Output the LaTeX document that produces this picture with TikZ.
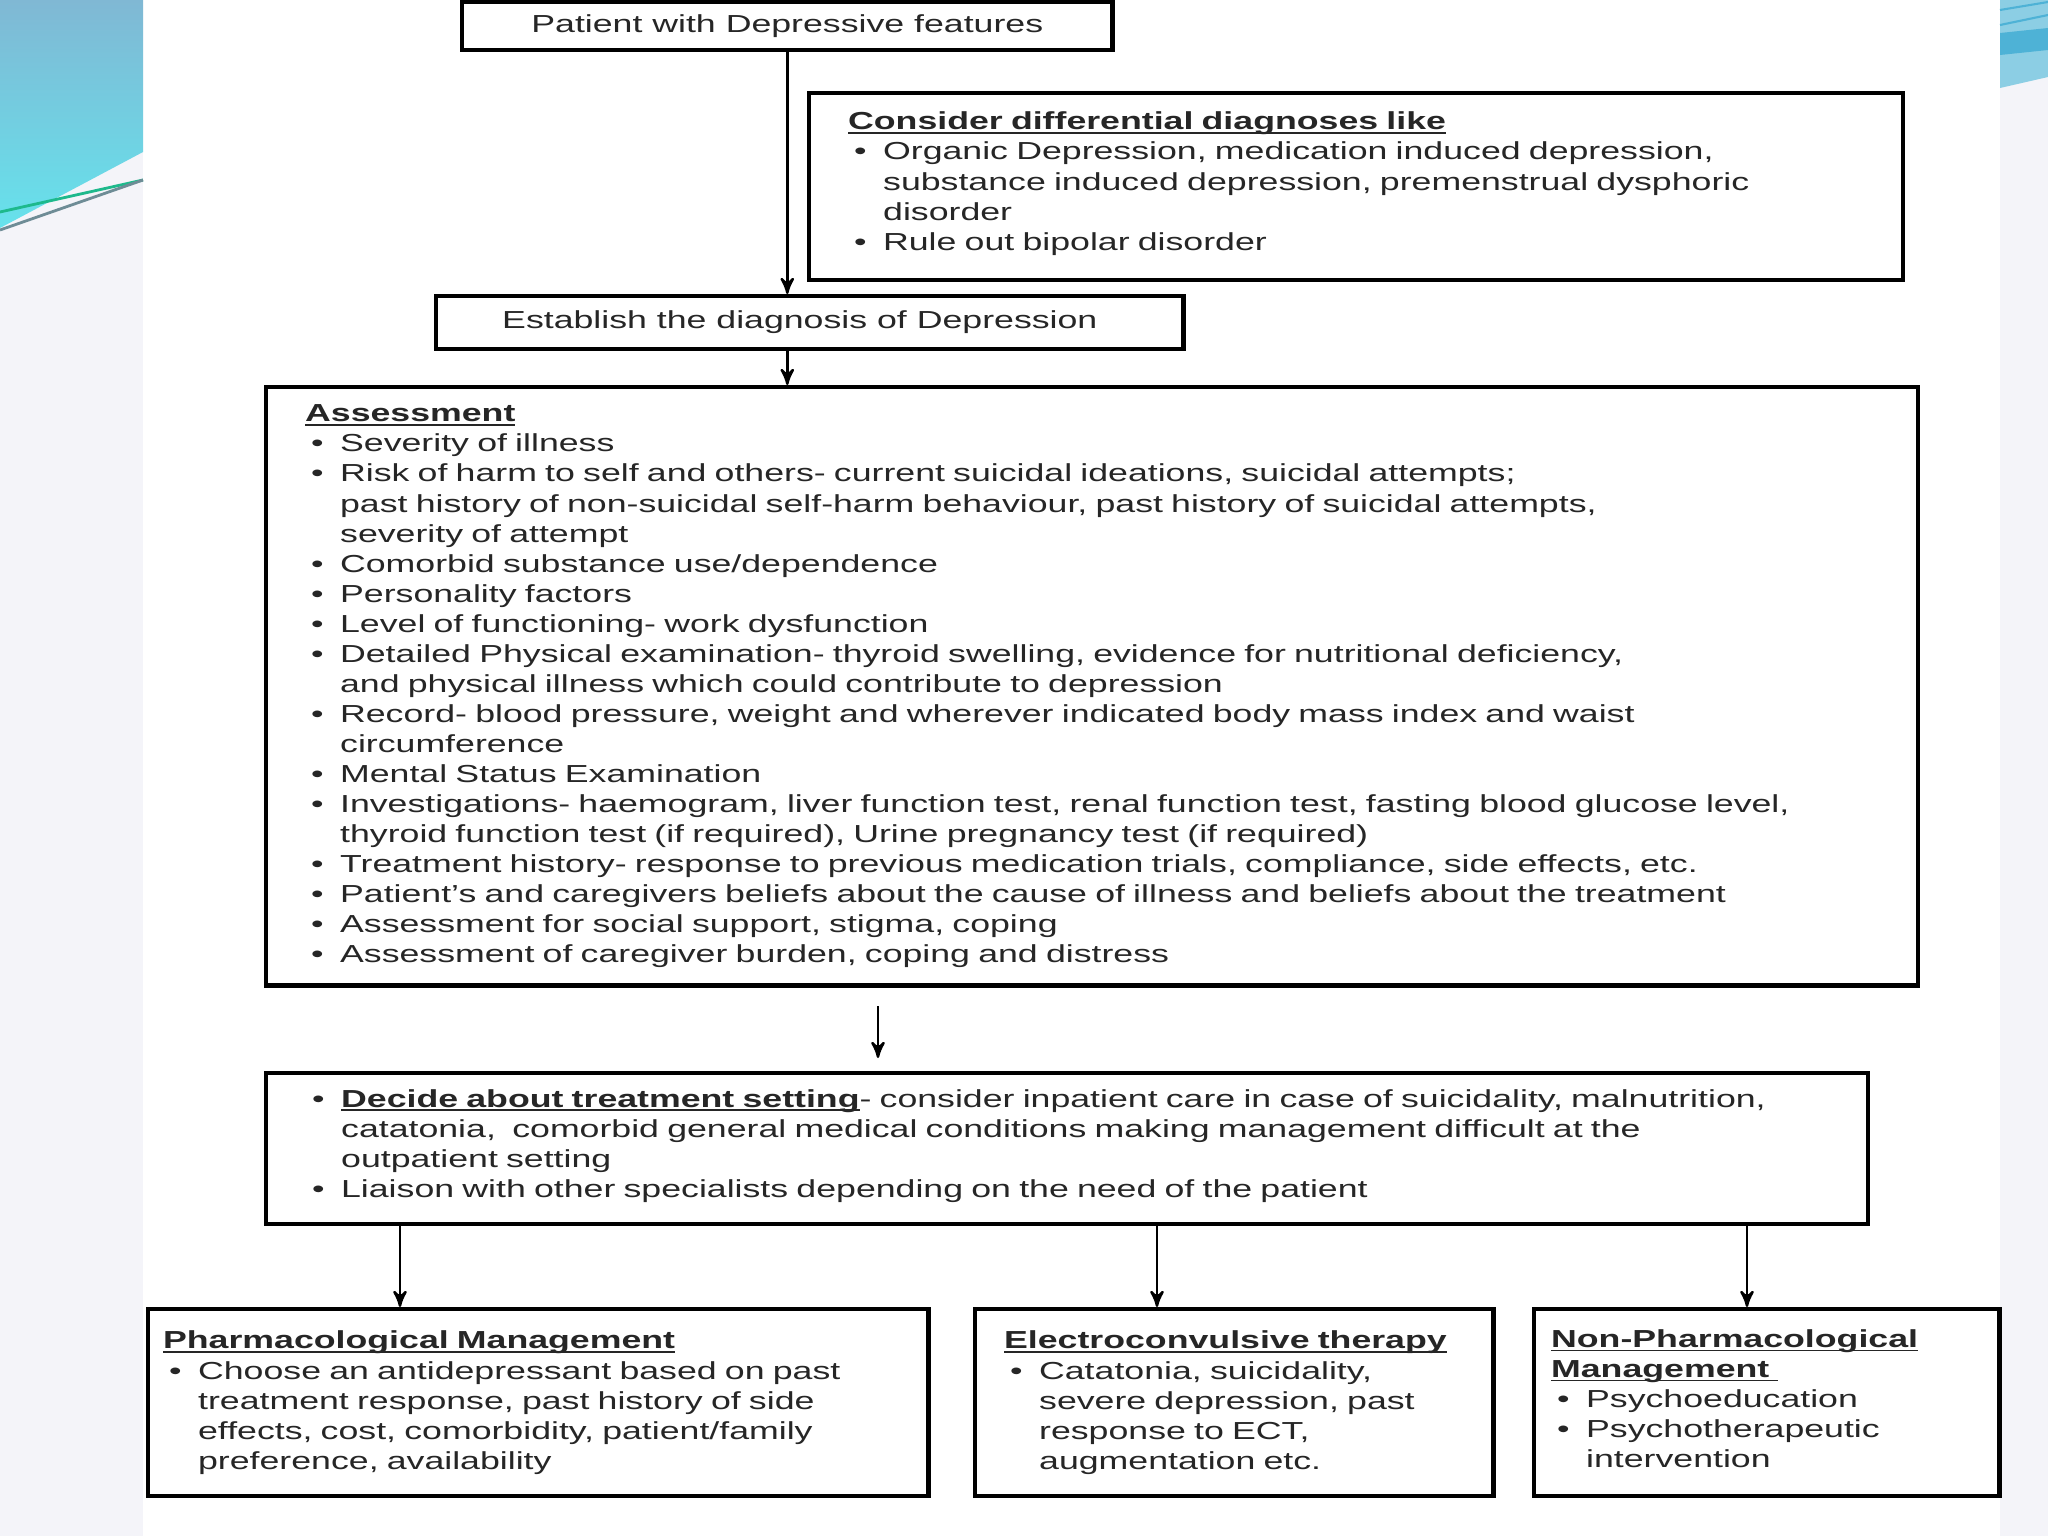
\documentclass[tikz,border=0pt]{standalone}
\usepackage{fontspec}
\setmainfont[FakeStretch=1.45]{Liberation Sans}
\usepackage{tikz}
\usetikzlibrary{calc}
\usetikzlibrary{positioning}
\usetikzlibrary{arrows}
\definecolor{sidegrey}{RGB}{244,244,249}
\definecolor{tealtop}{RGB}{128,184,212}
\definecolor{cyanbottom}{RGB}{102,226,236}
\definecolor{linegreen}{RGB}{30,185,140}
\definecolor{linegrey}{RGB}{110,140,150}
\definecolor{stripeblue}{RGB}{140,206,228}
\definecolor{darkstripe}{RGB}{78,178,214}
\definecolor{textgrey}{RGB}{38,38,38}
\newcommand{\bitem}[1]{\par\hangindent=0.35cm\hangafter=1\noindent\makebox[0.35cm][l]{\hspace{0.06cm}\textbullet}#1\par}
\newcommand{\kopf}[1]{\setbox0\hbox{\textbf{#1}}\rlap{\smash{\rule[-1.1pt]{\wd0}{0.5pt}}}\box0}
\tikzset{
	>=stealth',
	punktbox/.style={
		rectangle,
		draw=black, line width=1.2pt,
		fill=white,
		anchor=north west,
		inner ysep=0pt,
		text=textgrey,
		font=\fontsize{7}{8.54}\selectfont,
		align=left},
	line/.style={draw, line width=0.7pt, ->},
}
\begin{document}
\begin{tikzpicture}
	[x=0.01cm, y=-0.01cm]
	\useasboundingbox (0,0) rectangle (2048,1536);
	% slide background
	\fill[sidegrey] (0,0) rectangle (2048,1536);
	\fill[white] (143,0) rectangle (2000,1536);
	\shade[top color=tealtop, bottom color=cyanbottom] (0,0) -- (143,0) -- (143,152) -- (0,228) -- cycle;
	\draw[linegreen, line width=0.8pt] (0,212) -- (143,180);
	\draw[linegrey, line width=0.8pt] (0,230) -- (143,180);
	\fill[stripeblue] (2000,0) -- (2048,0) -- (2048,77) -- (2000,88) -- cycle;
	\fill[darkstripe] (2000,33) -- (2048,28) -- (2048,50) -- (2000,55) -- cycle;
	\draw[darkstripe, line width=0.6pt] (2000,10) -- (2048,2);
	\draw[darkstripe, line width=0.6pt] (2000,25) -- (2048,15);

	\node[punktbox, minimum width=6.5cm, minimum height=0.48cm, align=center] (patient) at (460,0) {Patient with Depressive features};
	\node[punktbox, inner xsep=0.39cm, text width=10.15cm, minimum height=1.87cm] (differential) at (807,91)
		{\kopf{Consider differential diagnoses like}
		\bitem{Organic Depression, medication induced depression,\newline substance induced depression, premenstrual dysphoric\newline disorder}
		\bitem{Rule out bipolar disorder}\vspace{0.06cm}};
	\node[punktbox, minimum width=7.47cm, minimum height=0.53cm, align=center] (diagnosis) at (434,294) {Establish the diagnosis of Depression\hspace{0.2cm}};
	\node[punktbox, inner xsep=0.39cm, text width=15.73cm, minimum height=5.98cm] (assessment) at (264,385)
		{\kopf{Assessment}
		\bitem{Severity of illness}
		\bitem{Risk of harm to self and others- current suicidal ideations, suicidal attempts;\newline past history of non-suicidal self-harm behaviour, past history of suicidal attempts,\newline severity of attempt}
		\bitem{Comorbid substance use/dependence}
		\bitem{Personality factors}
		\bitem{Level of functioning- work dysfunction}
		\bitem{Detailed Physical examination- thyroid swelling, evidence for nutritional deficiency,\newline and physical illness which could contribute to depression}
		\bitem{Record- blood pressure, weight and wherever indicated body mass index and waist\newline circumference}
		\bitem{Mental Status Examination}
		\bitem{Investigations- haemogram, liver function test, renal function test, fasting blood glucose level,\newline thyroid function test (if required), Urine pregnancy test (if required)}
		\bitem{Treatment history- response to previous medication trials, compliance, side effects, etc.}
		\bitem{Patient's and caregivers beliefs about the cause of illness and beliefs about the treatment}
		\bitem{Assessment for social support, stigma, coping}
		\bitem{Assessment of caregiver burden, coping and distress}};
	\node[punktbox, inner xsep=0.40cm, text width=15.21cm, minimum height=1.51cm] (setting) at (264,1071)
		{\bitem{\kopf{Decide about treatment setting}- consider inpatient care in case of suicidality, malnutrition,\newline catatonia,\ \ comorbid general medical conditions making management difficult at the\newline outpatient setting}
		\bitem{Liaison with other specialists depending on the need of the patient}\vspace{0.18cm}};
	\node[punktbox, inner xsep=0.15cm, text width=7.50cm, minimum height=1.87cm] (pharma) at (146,1307)
		{\kopf{Pharmacological Management}
		\bitem{Choose an antidepressant based on past\newline treatment response, past history of side\newline effects, cost, comorbidity, patient/family\newline preference, availability}};
	\node[punktbox, inner xsep=0.29cm, text width=4.60cm, minimum height=1.87cm] (ect) at (973,1307)
		{\kopf{Electroconvulsive therapy}
		\bitem{Catatonia, suicidality,\newline severe depression, past\newline response to ECT,\newline augmentation etc.}};
	\node[punktbox, inner xsep=0.17cm, text width=4.31cm, minimum height=1.87cm] (nonpharma) at (1532,1307)
		{\kopf{Non-Pharmacological}\newline\kopf{Management\ }
		\bitem{Psychoeducation}
		\bitem{Psychotherapeutic\newline intervention}\vspace{0.08cm}};

	\coordinate (frei1) at (878,1006);
	\coordinate (frei2) at (878,1058);
	\coordinate (p1) at (400,0);
	\coordinate (p2) at (1157,0);
	\coordinate (p3) at (1747,0);
	\draw[line] (patient.south) -- (patient.south |- diagnosis.north);
	\draw[line] (diagnosis.south -| patient.south) -- (assessment.north -| patient.south);
	\draw[line] (frei1) -- (frei2);
	\draw[line] (setting.south -| p1) -- (pharma.north -| p1);
	\draw[line] (setting.south -| p2) -- (ect.north -| p2);
	\draw[line] (setting.south -| p3) -- (nonpharma.north -| p3);
\end{tikzpicture}
\end{document}
